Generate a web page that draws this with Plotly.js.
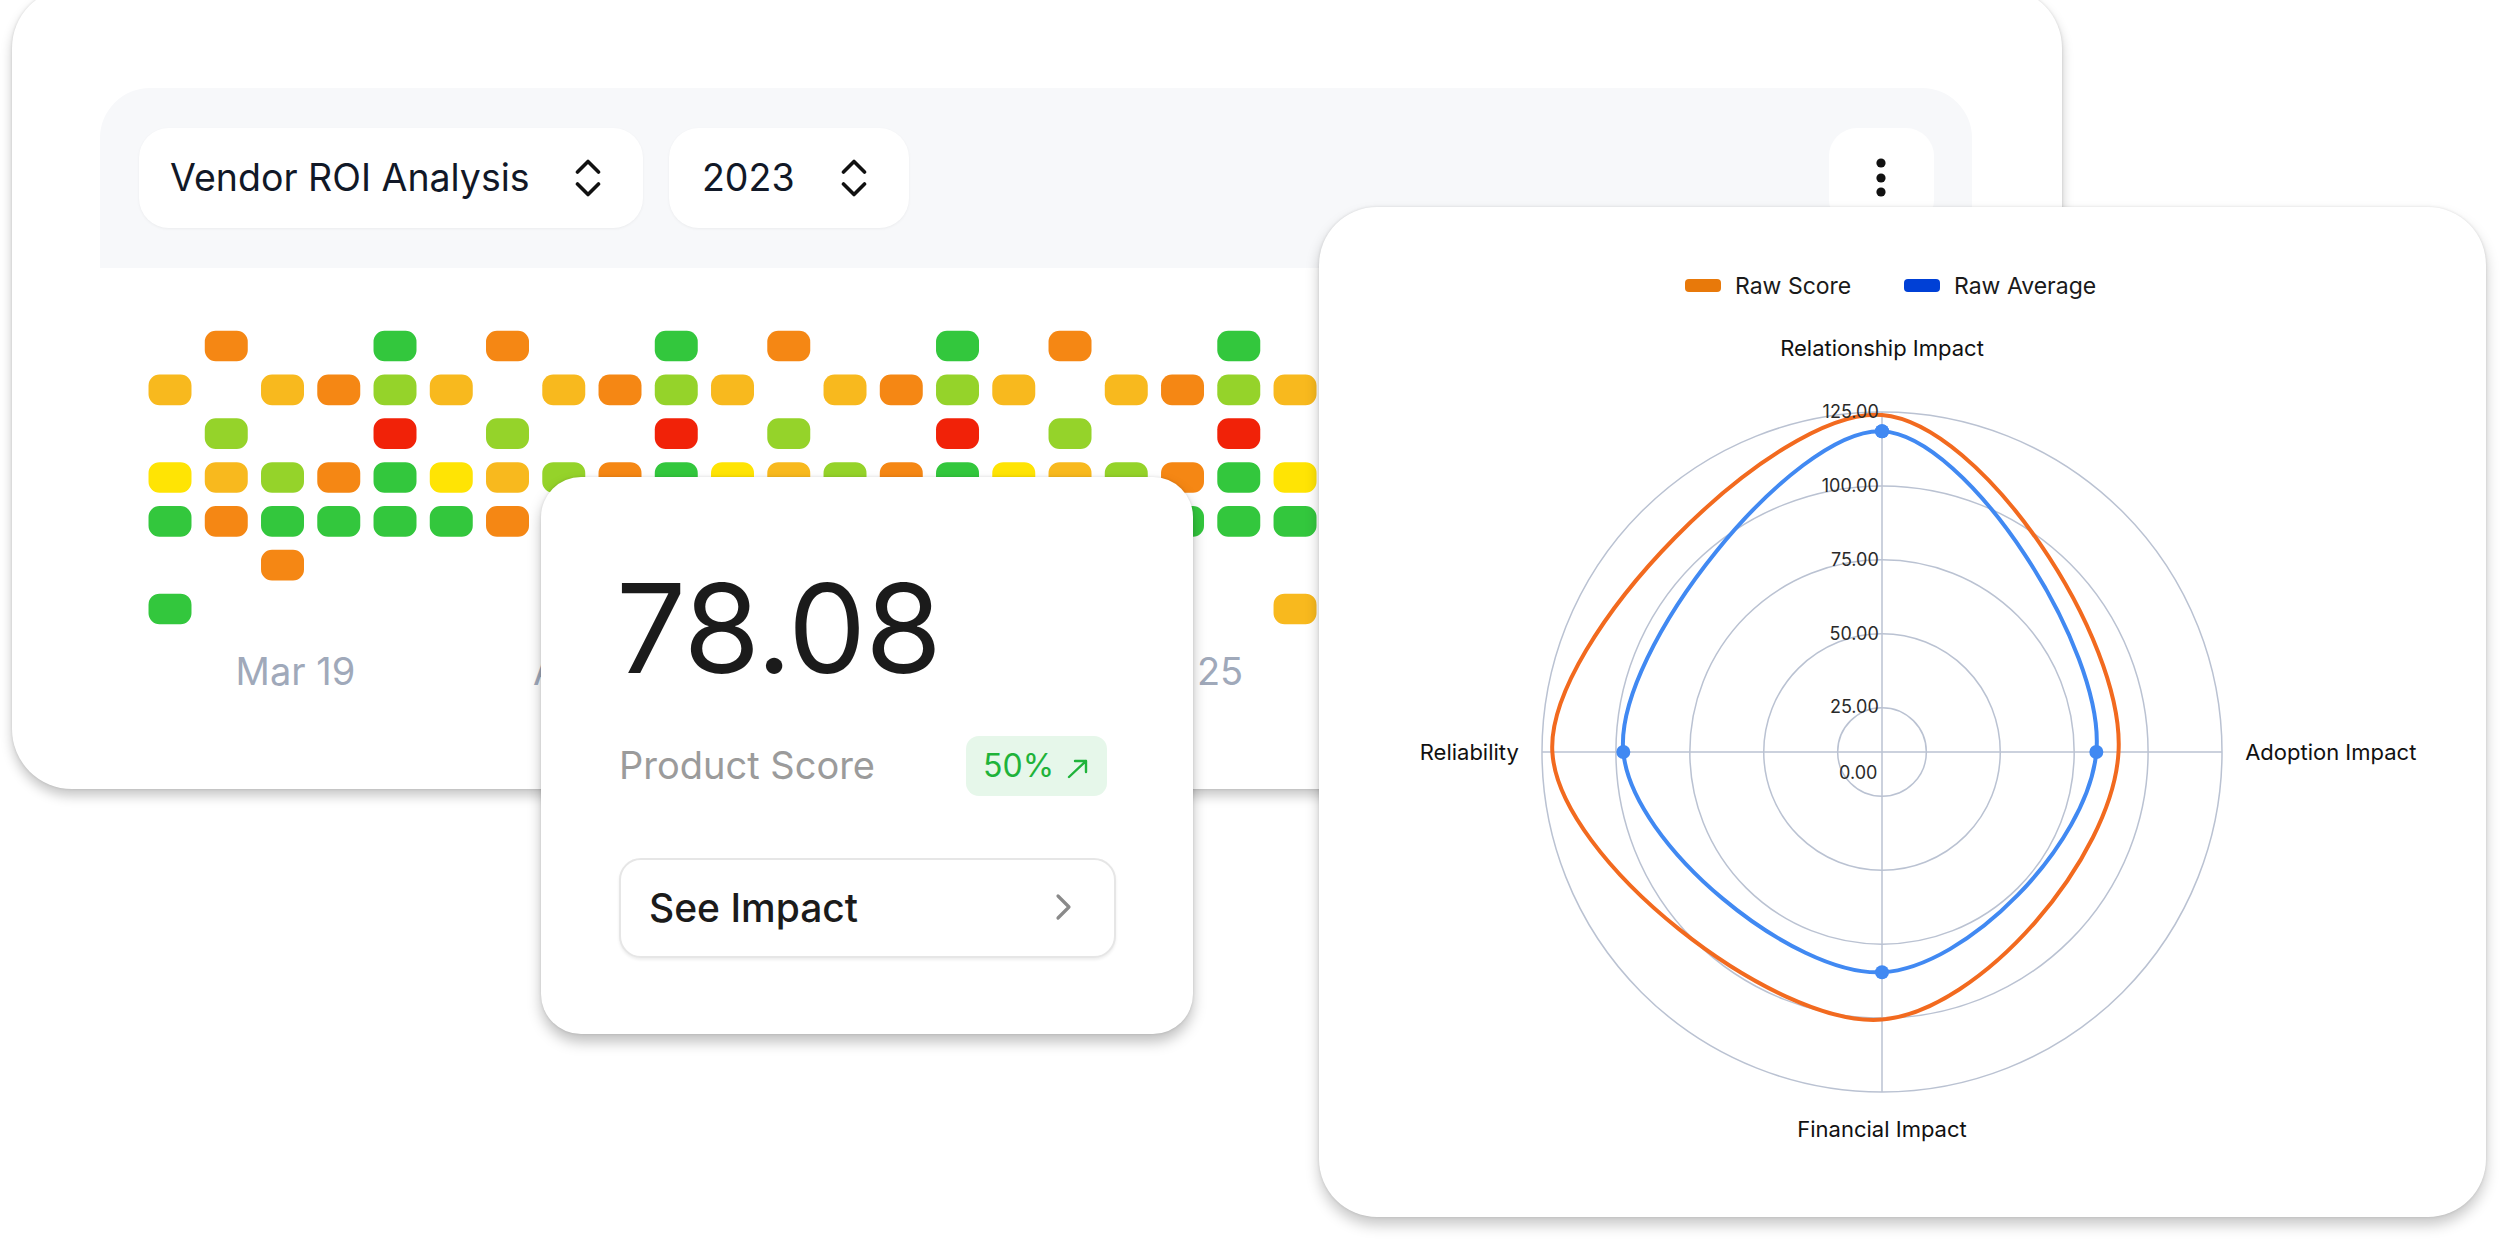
<!DOCTYPE html>
<html>
<head>
<meta charset="utf-8">
<script src="https://cdn.plot.ly/plotly-3.0.1.min.js"></script>
<style>
  html, body { margin:0; padding:0; background:#ffffff; width:2500px; height:1243px; overflow:hidden;
    font-family: Inter, "Noto Sans", "DejaVu Sans", sans-serif; }
  .abs { position:absolute; box-sizing:border-box; }
  .txt { position:absolute; white-space:nowrap; line-height:1; }
</style>
</head>
<body>
<script>
// ---------------- DATA ----------------
// Heat-map (calendar style): 7 rows x 21 visible week columns, level codes
const heatColumns = [1,2,3,4,5,6,7,8,9,10,11,12,13,14,15,16,17,18,19,20,21];
const heatRow1 = [null,'O',null,null,'G',null,'O',null,null,'G',null,'O',null,null,'G',null,'O',null,null,'G',null];
const heatRow2 = ['A',null,'A','O','L','A',null,'A','O','L','A',null,'A','O','L','A',null,'A','O','L','A'];
const heatRow3 = [null,'L',null,null,'R',null,'L',null,null,'R',null,'L',null,null,'R',null,'L',null,null,'R',null];
const heatRow4 = ['Y','A','L','O','G','Y','A','L','O','G','Y','A','L','O','G','Y','A','L','O','G','Y'];
const heatRow5 = ['G','O','G','G','G','G','O','G','G','G','G','O','G','G','G','G','O','G','G','G','G'];
const heatRow6 = [null,null,'O',null,null,null,null,'O',null,null,null,null,'O',null,null,null,null,'O',null,null,null];
const heatRow7 = ['G',null,null,null,null,null,null,null,null,null,null,null,null,null,null,null,null,null,null,null,'A'];
const heatLevels = ['R','O','A','Y','L','G'];
const heatTickPos  = [3.23, 8.02, 18.98];
const heatTickText = ['Mar 19', 'Apr', 'Jun 25'];

// Radar
const radarAxes   = ['Relationship Impact', 'Adoption Impact', 'Financial Impact', 'Reliability'];
const rawScore    = [124, 90, 100.5, 121.5];
const rawAverage  = [118.5, 82.5, 84.5, 97.5];
const seriesNames = ['Raw Score', 'Raw Average'];
const radialTicks = [25, 50, 75, 100, 125];
const radialZeroLabel = '0.00';

// Card texts
const selectorLabels = ['Vendor ROI Analysis', '2023'];
const kpiValue  = '78.08';
const kpiLabel  = 'Product Score';
const kpiChange = '50%';
const kpiButton = 'See Impact';

// ---------------- STYLE ----------------
const levelColors = {R:'#F12208', O:'#F58714', A:'#F8B91E', Y:'#FFE404', L:'#95D32A', G:'#33C73D'};
const lineColors  = ['#F26A1F', '#4189F2'];
const swatchColors = ['#E8790A', '#0040D6'];
const gridCol = '#BAC2D2';

function el(tag, cls, style, html, parent) {
  const e = document.createElement(tag);
  if (cls) e.className = cls;
  Object.assign(e.style, style || {});
  if (html !== undefined && html !== null) e.innerHTML = html;
  (parent || document.body).appendChild(e);
  return e;
}
function text(str, left, baseline, size, color, weight, extra) {
  const t = el('div', 'txt', Object.assign({left:left+'px', top:(baseline - 0.864*size)+'px',
    fontSize:size+'px', color:color, fontWeight:weight||400}, extra||{}));
  t.textContent = str;
  return t;
}

// ---------------- MAIN CARD ----------------
el('div','abs',{left:'12px',top:'-12px',width:'2050px',height:'801px',background:'#fff',borderRadius:'60px',
  boxShadow:'0 7px 12px rgba(0,0,0,0.22), 0 0 3px rgba(0,0,0,0.12)'});
el('div','abs',{left:'100px',top:'88px',width:'1872px',height:'180px',background:'#F7F8FA',borderRadius:'50px 50px 0 0'});
// selectors
const sel = [[139,504,170,575],[669,240,702,841]];
sel.forEach((s,i)=>{
  el('div','abs',{left:s[0]+'px',top:'128px',width:s[1]+'px',height:'100px',background:'#fff',borderRadius:'30px',
    boxShadow:'0 1px 3px rgba(0,0,0,0.05)'});
  text(selectorLabels[i], s[2], 191, 37.5, '#111827', 400);
  el('div','abs',{left:s[3]+'px',top:'159px',width:'26px',height:'38px'},
    '<svg width="26" height="38" viewBox="0 0 26 38"><path d="M2.5 13 L13 2.5 L23.5 13 M2.5 25 L13 35.5 L23.5 25" fill="none" stroke="#111" stroke-width="3.6" stroke-linecap="round" stroke-linejoin="round"/></svg>');
});
// kebab
el('div','abs',{left:'1829px',top:'128px',width:'105px',height:'100px',background:'#fff',borderRadius:'28px'});
el('div','abs',{left:'1871px',top:'153px',width:'20px',height:'50px'},
  '<svg width="20" height="50"><circle cx="10" cy="10" r="4.6" fill="#111"/><circle cx="10" cy="25" r="4.6" fill="#111"/><circle cx="10" cy="39" r="4.6" fill="#111"/></svg>');

// heat map
const heatDiv = el('div','abs',{left:'120px',top:'300px',width:'1200px',height:'420px'});
const heatRows = [heatRow1,heatRow2,heatRow3,heatRow4,heatRow5,heatRow6,heatRow7];
const cellH = 0.70;
const heatTraces = heatLevels.map(k => {
  const x=[], base=[], y=[];
  heatRows.forEach((row, ri) => row.forEach((v, ci) => {
    if (v === k) {
      const r = ri + 1, c = heatColumns[ci];
      x.push(c); base.push(r - cellH/2); y.push(cellH);
    }
  }));
  return {type:'bar', x:x, y:y, base:base, width:0.764, hoverinfo:'skip', showlegend:false,
    marker:{color:levelColors[k], cornerradius:11, line:{width:0}}};
});
Plotly.newPlot(heatDiv, heatTraces, {
  width:1200, height:420, margin:{l:0,r:0,t:0,b:80}, barmode:'overlay',
  paper_bgcolor:'rgba(0,0,0,0)', plot_bgcolor:'rgba(0,0,0,0)',
  xaxis:{range:[0.111,21.444], showgrid:false, zeroline:false, showline:false, ticks:'',
    tickvals:heatTickPos, ticktext:heatTickText, ticklabelstandoff:6,
    tickfont:{family:'Inter', size:38, color:'#A0A9BA'}},
  yaxis:{range:[7.708,-0.0495], showgrid:false, zeroline:false, showline:false, showticklabels:false}
}, {staticPlot:true, displayModeBar:false});

// ---------------- KPI CARD ----------------
el('div','abs',{left:'541px',top:'477px',width:'652px',height:'557px',background:'#fff',borderRadius:'40px',
  boxShadow:'0 8px 14px rgba(0,0,0,0.25), 0 0 3px rgba(0,0,0,0.12)'});
text(kpiValue, 616, 673, 124, '#1b1b1b', 400, {letterSpacing:'-1px'});
text(kpiLabel, 619, 779, 38, '#9B9B9B', 400);
el('div','abs',{left:'966px',top:'736px',width:'141px',height:'60px',background:'#E6F7EA',borderRadius:'13px'});
text(kpiChange, 983, 778, 32, '#1FB33A', 400);
el('div','abs',{left:'1066px',top:'758px',width:'24px',height:'22px'},
  '<svg width="24" height="22"><path d="M3 19 L20 3 M9 3 L20 3 L20 14" fill="none" stroke="#1FB33A" stroke-width="2.4" stroke-linecap="round" stroke-linejoin="round"/></svg>');
el('div','abs',{left:'619px',top:'858px',width:'497px',height:'100px',background:'#fff',border:'2px solid #E6E6E6',
  borderRadius:'22px',boxShadow:'0 2px 3px rgba(0,0,0,0.07)'});
text(kpiButton, 649, 922, 39, '#1b1b1b', 500);
el('div','abs',{left:'1054px',top:'892px',width:'20px',height:'30px'},
  '<svg width="20" height="30"><path d="M4 4 L15 15 L4 26" fill="none" stroke="#8A8A8A" stroke-width="3.2" stroke-linecap="round" stroke-linejoin="round"/></svg>');

// ---------------- RADAR CARD ----------------
el('div','abs',{left:'1319px',top:'207px',width:'1167px',height:'1010px',background:'#fff',borderRadius:'58px',
  boxShadow:'0 8px 14px rgba(0,0,0,0.22), 0 0 3px rgba(0,0,0,0.12)'});
// legend built from series names
const legendPos = [[1685,1735],[1904,1954]];
seriesNames.forEach((n,i)=>{
  el('div','abs',{left:legendPos[i][0]+'px',top:'279px',width:'36px',height:'13px',background:swatchColors[i],borderRadius:'4px'});
  text(n, legendPos[i][1], 295, 23, '#1a1a1a', 400);
});
const radarDiv = el('div','abs',{left:'1320px',top:'300px',width:'1124px',height:'848px'});
// open spline through the loop (start point repeated at the end)
const closeLoop = a => a.concat([a[0] + 1e-9]);
const closeTheta = a => a.concat([a[0]]);
const radarTraces = [
  {type:'scatterpolar', name:seriesNames[0], r:closeLoop(rawScore), theta:closeTheta(radarAxes), mode:'lines',
   line:{color:lineColors[0], width:4, shape:'spline', smoothing:1.1}, hoverinfo:'skip'},
  {type:'scatterpolar', name:seriesNames[1], r:closeLoop(rawAverage), theta:closeTheta(radarAxes), mode:'lines+markers',
   line:{color:lineColors[1], width:4, shape:'spline', smoothing:1.1}, marker:{size:14, color:lineColors[1]}, hoverinfo:'skip'}
];
const angTickText = radarAxes.map((t,i) => i === 0 ? t + '<br> ' : t);
Plotly.newPlot(radarDiv, radarTraces, {
  width:1124, height:848, margin:{l:0,r:0,t:0,b:0}, showlegend:false,
  paper_bgcolor:'rgba(0,0,0,0)',
  polar:{domain:{x:[0.1975,0.8025], y:[0.066,0.868]}, bgcolor:'rgba(0,0,0,0)',
    radialaxis:{range:[10,125], tickvals:radialTicks, tickformat:'.2f', angle:90, tickangle:90, side:'counterclockwise',
      showline:false, ticks:'', gridcolor:gridCol, gridwidth:1.5,
      tickfont:{family:'Inter', size:18, color:'#2a2a2a'}},
    angularaxis:{rotation:90, direction:'clockwise', categoryarray:radarAxes, categoryorder:'array',
      tickmode:'array', tickvals:radarAxes, ticktext:angTickText,
      gridcolor:gridCol, gridwidth:1.5, linecolor:gridCol, linewidth:1.5,
      ticks:'outside', ticklen:18, tickcolor:'rgba(0,0,0,0)',
      tickfont:{family:'Inter', size:22, color:'#111'}}},
  annotations:[{text:radialZeroLabel, xref:'paper', yref:'paper', x:(1879-1320)/1124, y:(1148-772)/848,
    xanchor:'right', yanchor:'middle', showarrow:false, font:{family:'Inter', size:18, color:'#2a2a2a'}}]
}, {staticPlot:true, displayModeBar:false});
</script>
</body>
</html>
